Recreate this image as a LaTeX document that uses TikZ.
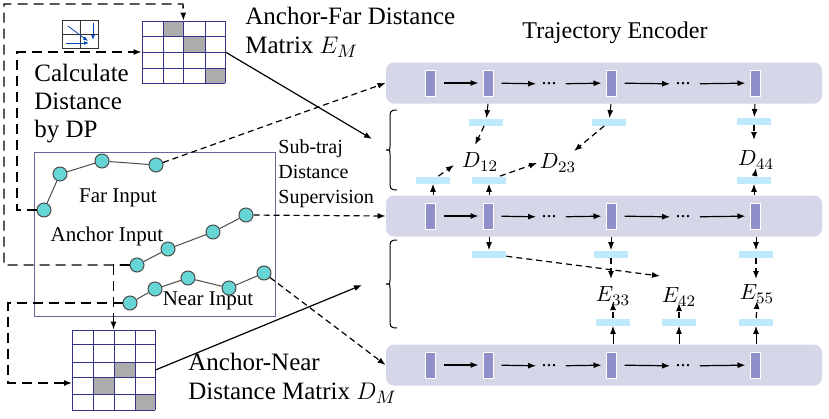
\documentclass[tikz,border=0pt]{standalone}
\usepackage{fontspec}
\setmainfont{Liberation Serif}
\usetikzlibrary{arrows.meta,decorations.pathreplacing}
\begin{document}
\begin{tikzpicture}[x=0.5pt,y=-0.5pt,
  sdash/.style={densely dashed,line width=0.6pt},
  ldash/.style={line width=0.7pt,dash pattern=on 5pt off 3pt},
  tip/.style={-{Latex[length=4pt,width=3pt]}},
  pt/.style={circle,draw=black!70,fill=teal!55!cyan!60,minimum width=7pt,minimum height=6pt,inner sep=0pt,line width=0.5pt},
  enc/.style={draw=none,fill=blue!30!gray!25,rounded corners=4pt},
  cell/.style={draw=white,fill=blue!35!gray!65,minimum width=5pt,minimum height=13pt,inner sep=0pt,line width=0.5pt},
  bar/.style={fill=cyan!25,draw=none,minimum width=17pt,minimum height=3.5pt,inner sep=0pt},
  gridc/.style={draw=blue!40!black!80,line width=0.5pt},
  harr/.style={tip,line width=0.6pt,shorten <=4pt,shorten >=2pt},
  lbl/.style={font=\fontsize{11}{11}\selectfont,inner sep=0pt}]
\useasboundingbox (0,0) rectangle (829,418);
% matrices
\fill[gray!65] (163,21) rectangle (183,36) (183,36) rectangle (205,52) (205,68) rectangle (225,83);
\foreach \x in {142,163,183,205,225} \draw[gridc] (\x,21) -- (\x,83);
\foreach \y in {21,36,52,68,83} \draw[gridc] (142,\y) -- (225,\y);
\node[inner sep=0pt,minimum width=41.5pt,minimum height=31pt] (mtop) at (183.5,52) {};
\fill[gray!65] (114,362) rectangle (135,377) (93,377) rectangle (114,394) (135,394) rectangle (155,410);
\foreach \x in {72,93,114,135,155} \draw[gridc] (\x,330) -- (\x,410);
\foreach \y in {330,344,362,377,394,410} \draw[gridc] (72,\y) -- (155,\y);
\node[inner sep=0pt,minimum width=41.5pt,minimum height=40pt] (mbot) at (113.5,370) {};
% icon
\draw[black!80,line width=0.5pt] (62,20) rectangle (98,48) (80,20) -- (80,48) (62,34) -- (98,34);
\draw[blue!60!cyan!70!black,-{Latex[length=2.5pt]}] (68,26) -- (88,41);
\draw[blue!60!cyan!70!black,-{Latex[length=2.5pt]}] (66,43) -- (89,43);
\draw[blue!60!cyan!70!black,-{Latex[length=2.5pt]}] (93,23) -- (93,40);
% texts
\node[anchor=north west,align=left,font=\fontsize{12.5}{14}\selectfont,inner sep=0pt] (tcalc) at (34,64) {Calculate\\Distance\\by DP};
\node[anchor=north west,align=left,font=\fontsize{12.5}{14.5}\selectfont,inner sep=0pt] (taf) at (245,7) {Anchor-Far Distance\\Matrix $E_M$};
\node[anchor=north west,align=left,font=\fontsize{12.5}{14.5}\selectfont,inner sep=0pt] (tan) at (188,353) {Anchor-Near\\Distance Matrix $D_M$};
\node[font=\fontsize{12}{12}\selectfont\rmfamily] (tte) at (615,33) {Trajectory Encoder};
\node[anchor=north west,align=left,font=\fontsize{10}{12.5}\selectfont,inner sep=0pt] (tsub) at (278,139) {Sub-traj\\Distance\\Supervision};
% input box
\draw[gray!80!blue,line width=0.5pt] (34,152) rectangle (275,316);
\node[font=\fontsize{10.5}{10.5}\selectfont] (tfar) at (118,198) {Far Input};
\node[font=\fontsize{10.5}{10.5}\selectfont] (tanc) at (107,236) {Anchor Input};
\node[font=\fontsize{10.5}{10.5}\selectfont] (tnear) at (208,301) {Near Input};
\foreach \n/\x/\y in {f1/44/210,f2/60/174,f3/102/161,f4/156/165,a1/137/265,a2/168/249,a3/213/232,a4/246/215,n1/130/303,n2/155/289,n3/188/278,n4/229/288,n5/264/273}
  \node[pt] (\n) at (\x,\y) {};
\draw[black!70,line width=0.5pt] (f1)--(f2)--(f3)--(f4) (a1)--(a2)--(a3)--(a4) (n1)--(n2)--(n3)--(n4)--(n5);
% dashed connectors
\draw[ldash,tip] (f1) -- (17,210) -- (17,52) -- (mtop.west);
\draw[ldash,tip] (a1) -- (4,265) -- (4,4) -- (183,4) -- (mtop.north);
\draw[ldash,tip] (a1.west) -| (mbot.north);
\draw[ldash,tip] (n1) -- (8,303) -- (8,383) -- (72,383);
% encoders
\foreach \n/\y in {et/83,em/216,eb/365}
  \node[enc,minimum width=218pt,minimum height=20.5pt] (\n) at (604,\y) {};
\foreach \e/\y in {t/83,m/216,b/365}{
  \foreach \i/\x in {1/430,2/488,3/611,4/755} \node[cell] (c\e\i) at (\x,\y) {};
  \node[font=\fontsize{10}{10}\selectfont,inner sep=0.5pt] (d\e1) at (549,\y+1) {...};
  \node[font=\fontsize{10}{10}\selectfont,inner sep=0.5pt] (d\e2) at (683,\y+1) {...};
  \draw[harr] (c\e1) -- (c\e2);
  \draw[harr] (c\e2) -- (d\e1);
  \draw[harr] (d\e1) -- (c\e3);
  \draw[harr] (c\e3) -- (d\e2);
  \draw[harr] (d\e2) -- (c\e4);
}
% braces
\draw[line width=0.5pt] (397,110) .. controls (390,110) and (390,112) .. (390,118) -- (390,146) .. controls (390,150) .. (386,150) .. controls (390,150) .. (390,154) -- (390,182) .. controls (390,188) and (390,190) .. (397,190);
\draw[line width=0.5pt] (397,240) .. controls (390,240) and (390,242) .. (390,248) -- (390,280) .. controls (390,284) .. (386,284) .. controls (390,284) .. (390,288) -- (390,320) .. controls (390,326) and (390,328) .. (397,328);
% solid long arrows
\draw[tip,line width=0.6pt] (mtop.east) -- (372,139);
\draw[tip,line width=0.6pt] (mbot.east) -- (362,285);
\draw[sdash,tip] (f4) -- (et.west);
\draw[sdash,tip] (a4) -- (em.west);
\draw[sdash,tip] (n5) -- (eb.west);
% bars
\foreach \n/\x/\y in {b1/486/122,b2/609/122,b3/754/121,b4/433/180,b5/489/180,b6/754/180,b7/489/254,b8/611/254,b9/756/254,b10/613/322,b11/679/322,b12/756/322}
  \node[bar] (\n) at (\x,\y) {};
% labels
\node[lbl] (D12) at (480,162) {$D_{12}$};
\node[lbl] (D23) at (558,163) {$D_{23}$};
\node[lbl] (D44) at (756,160) {$D_{44}$};
\node[lbl] (E33) at (613,296) {$E_{33}$};
\node[lbl] (E42) at (679,297) {$E_{42}$};
\node[lbl] (E55) at (757,294) {$E_{55}$};
% top to bars
\draw[tip,line width=0.5pt] (ct2.south |- et.south) -- (b1);
\draw[tip,line width=0.5pt] (ct3.south |- et.south) -- (b2);
\draw[tip,line width=0.5pt] (ct4.south |- et.south) -- (b3);
\draw[sdash,tip] (b1) -- (475,145);
\draw[sdash,tip] (b2) -- (574,151);
\draw[sdash,tip] (b3) -- (754,140);
% mid up to bars
\draw[tip,line width=0.5pt] (b4 |- em.north) -- (b4);
\draw[tip,line width=0.5pt] (b5 |- em.north) -- (b5);
\draw[tip,line width=0.5pt] (b6 |- em.north) -- (b6);
\draw[sdash,tip] (b4) -- (454,165);
\draw[sdash,tip] (b5) -- (537,163);
\draw[sdash,tip] (b6) -- (756,168);
% mid down to bars
\draw[tip,line width=0.5pt] (b7 |- em.south) -- (b7);
\draw[tip,line width=0.5pt] (b8 |- em.south) -- (b8);
\draw[tip,line width=0.5pt] (b9 |- em.south) -- (b9);
\draw[sdash,tip] (b7) -- (660,276);
\draw[sdash,tip] (b8) -- (611,279);
\draw[sdash,tip] (b9) -- (756,279);
% bottom up to bars
\draw[tip,line width=0.5pt] (b10 |- eb.north) -- (b10);
\draw[tip,line width=0.5pt] (b11 |- eb.north) -- (b11);
\draw[tip,line width=0.5pt] (b12 |- eb.north) -- (b12);
\draw[sdash,tip] (b10) -- (613,302);
\draw[sdash,tip] (b11) -- (679,303);
\draw[sdash,tip] (b12) -- (757,301);
\end{tikzpicture}
\end{document}
